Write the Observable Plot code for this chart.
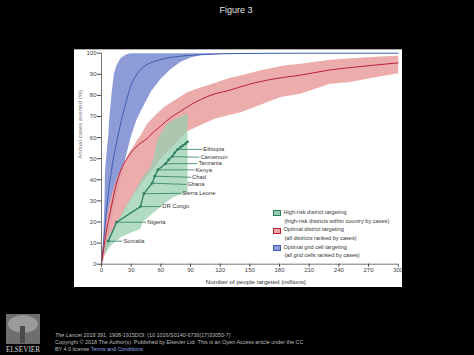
<!DOCTYPE html>
<html><head><meta charset="utf-8">
<script src="https://cdn.jsdelivr.net/npm/d3@7"></script>
<script src="https://cdn.jsdelivr.net/npm/@observablehq/plot@0.6"></script>
<style>
body{margin:0;background:#000;width:474px;height:355px;overflow:hidden;position:relative;font-family:"Liberation Sans",Arial,sans-serif;}
#title{position:absolute;left:0;width:472px;top:5px;text-align:center;color:#e6e6e6;font-size:9px;}
#panel{position:absolute;left:74px;top:50px;width:328px;height:237px;background:#fff;box-shadow:0 -1px 0 #aaa;}
#panel svg{position:absolute;left:0;top:0;background:#fff;}
.lg{position:absolute;font-size:5.6px;color:#333;white-space:nowrap;line-height:7px;}
.sw{position:absolute;width:6px;height:4px;}
#cite{position:absolute;left:55px;top:332px;font-size:5.4px;color:#bdbdbd;line-height:6.8px;white-space:nowrap;}
#cite a{color:#8fa3e0;text-decoration:none;}
#logo{position:absolute;left:4px;top:312px;}
</style></head>
<body>
<div id="title">Figure 3</div>
<div id="panel"></div>
<svg id="logo" width="40" height="43">
  <rect x="2" y="2" width="34" height="30" fill="#6e6e6e"/>
  <ellipse cx="19" cy="12" rx="15" ry="9" fill="#9a9a9a"/>
  <rect x="16" y="14" width="5" height="17" fill="#4a4a4a"/>
  <text x="19" y="40" text-anchor="middle" font-family="Liberation Serif,serif" font-size="7.2" fill="#d8d8d8">ELSEVIER</text>
</svg>
<div id="cite"><i>The Lancet</i> 2018 391, 1908-1915DOI: (10.1016/S0140-6736(17)33050-7)<br>Copyright © 2018 The Author(s). Published by Elsevier Ltd. This is an Open Access article under the CC<br>BY 4.0 license <a>Terms and Conditions</a></div>
<script>
// ---- data ----
const xTicks = [0, 30, 60, 90, 120, 150, 180, 210, 240, 270, 300];
const yTicks = [0, 10, 20, 30, 40, 50, 60, 70, 80, 90, 100];

// Optimal grid cell targeting (blue)
const blueMedX = [0, 2, 4, 6, 8, 10, 12, 15, 20, 25, 30, 35, 40, 50, 60, 70, 80, 100, 120, 150, 200, 300];
const blueMedY = [0, 10, 20, 30, 38, 44, 50, 57, 68, 77, 85, 89.5, 92.5, 95.5, 97, 98, 98.6, 99.3, 99.7, 99.9, 100, 100];
const blueUpX = [0, 1, 1.7, 3, 3.5, 5, 7, 7.5, 10, 12.5, 15, 19, 24, 29, 300];
const blueUpY = [0, 5, 11, 30, 44, 52, 62, 67, 80, 90, 94, 97.5, 99.3, 100, 100];
const blueLoX = [0, 5, 10, 15, 20, 25, 30, 35, 40, 50, 60, 70, 80, 90, 100, 120, 150, 200, 300];
const blueLoY = [0, 10, 20, 32, 42, 52, 61, 68, 73, 82, 88, 92.5, 96, 98, 99, 99.6, 99.9, 100, 100];

// Optimal district targeting (red)
const redMedX = [0, 1.5, 3.3, 6, 9, 12, 15, 20, 25, 30, 35, 40, 46, 50, 60, 66, 70, 80, 90, 100, 115, 130, 140, 160, 185, 200, 230, 250, 275, 300];
const redMedY = [0, 5, 11, 18.5, 25, 32, 38, 45, 49.5, 53, 55.5, 57.5, 59.5, 61.5, 65.5, 68, 69.5, 72.5, 75.5, 78, 80.8, 82.5, 84, 86.5, 88.6, 89.5, 92, 93.1, 94.3, 95.4];
const redUpX = [0, 1, 2.5, 5, 8, 12, 16, 20, 25, 29.3, 35, 40, 46, 55, 63, 75, 86.6, 100, 113.6, 130, 140.5, 160, 184, 201, 231, 260, 292, 300];
const redUpY = [0, 6, 14, 22, 29, 36, 41.5, 45.5, 50, 53.9, 58, 61.5, 66.5, 71, 74.4, 78, 81.5, 83.8, 85.8, 88.4, 89.4, 91.8, 94.2, 95, 96.9, 97.8, 98.7, 98.8];
const redLoX = [0, 3, 6, 10, 15, 20, 25, 30, 40, 50, 60, 70, 80, 86.6, 100, 115, 130, 140.5, 160, 181, 201, 231, 251.6, 275, 300];
const redLoY = [0, 4, 8, 13, 18, 23, 27, 31, 38, 44, 50, 55, 60, 63, 66, 69, 70.8, 72, 75.5, 79.2, 80.8, 85.5, 86.3, 88.5, 90.5];

// High-risk district targeting (green)
const greenUpX = [3, 3.5, 5, 8, 12.4, 18, 26, 32, 37.7, 43, 49.5, 53, 56.3, 60, 66.4, 75, 87];
const greenUpY = [4, 8, 11, 14, 17.5, 22, 28.6, 33, 38, 42, 46, 51, 58.6, 62, 66.5, 69, 71.3];
const greenLoX = [3, 4.5, 5.8, 8, 12, 19.2, 30, 39.5, 41, 51.2, 63, 73, 80, 87];
const greenLoY = [4, 5.5, 6.5, 8, 10, 12.8, 15, 16.8, 19.9, 23.9, 28.6, 31.8, 33, 34];

const countries = ["Somalia", "Nigeria", "DR Congo", "Sierra Leone", "Ghana", "Chad", "Kenya", "Tanzania", "Cameroon", "Ethiopia"];
const countryX = [6.8, 15.2, 39.4, 42.8, 51.2, 53.9, 56.9, 64.7, 71.4, 77];
const countryY = [10.9, 19.9, 27.3, 33.4, 38.4, 41.7, 44.7, 47.6, 51, 54.4];
const labelX = [22.2, 46.2, 61.4, 81.6, 86.6, 91.6, 95, 98, 100, 103];
const labelY = [10.9, 19.9, 27.3, 33.6, 37.8, 41.2, 44.7, 47.7, 50.7, 54.4];
const extraX = [68, 74, 80, 82.5, 85, 87];
const extraY = [49.5, 52.8, 55.5, 56.3, 57.1, 58];

const xTitle = "Number of people targeted (millions)";
const yTitle = "Annual cases averted (%)";
const legendItems = [
  ["High-risk district targeting", "(high-risk districts within country by cases)"],
  ["Optimal district targeting", "(all districts ranked by cases)"],
  ["Optimal grid cell targeting", "(all grid cells ranked by cases)"]
];

// ---- build tables ----
const pts = (xs, ys) => xs.map((x, i) => ({x, y: ys[i]}));
const poly = (ux, uy, lx, ly) => pts(ux, uy).concat(pts(lx, ly).reverse());
const blueBand = poly(blueUpX, blueUpY, blueLoX, blueLoY);
const redBand = poly(redUpX, redUpY, redLoX, redLoY);
const greenBand = poly(greenUpX, greenUpY, greenLoX, greenLoY);
const greenPts = pts(countryX.concat(extraX), countryY.concat(extraY)).sort((a, b) => a.x - b.x);
const labels = countries.map((c, i) => ({c, px: countryX[i], py: countryY[i], lx: labelX[i], ly: labelY[i]}));

const BLUE = "#8d9bd7", BLUE_L = "#3d5cb0";
const RED = "#eaa5a5", RED_L = "#be1e35";
const GREEN = "#98cfb0", GREEN_L = "#2f8062";

const chart = Plot.plot({
  width: 328, height: 237,
  marginLeft: 27, marginRight: 4.3, marginTop: 2.7, marginBottom: 23.3,
  style: {fontFamily: "Liberation Sans, Arial, sans-serif", background: "#fff"},
  x: {domain: [0, 300]},
  y: {domain: [0, 100]},
  marks: [
    Plot.line(blueBand, {x: "x", y: "y", fill: BLUE, stroke: "none", curve: "linear"}),
    Plot.line(redBand, {x: "x", y: "y", fill: RED, fillOpacity: 0.92, stroke: "none"}),
    Plot.line(greenBand, {x: "x", y: "y", fill: GREEN, fillOpacity: 0.75, stroke: "none"}),
    Plot.line(pts(blueMedX, blueMedY), {x: "x", y: "y", stroke: BLUE_L, strokeWidth: 1, curve: "monotone-x"}),
    Plot.line(pts(redMedX, redMedY), {x: "x", y: "y", stroke: RED_L, strokeWidth: 1, curve: "monotone-x"}),
    Plot.link(labels, {x1: "px", y1: "py", x2: d => d.lx - 1, y2: "ly", stroke: GREEN_L, strokeWidth: 0.8}),
    Plot.line(greenPts, {x: "x", y: "y", stroke: GREEN_L, strokeWidth: 1.3}),
    Plot.dot(greenPts, {x: "x", y: "y", r: 1.4, fill: GREEN_L, stroke: "none"}),
    Plot.text(labels, {x: "lx", y: "ly", text: "c", textAnchor: "start", fontSize: 5.8, fill: "#333"}),
    Plot.ruleX([0], {stroke: "#666", strokeWidth: 0.9}),
    Plot.ruleY([0], {stroke: "#666", strokeWidth: 0.9}),
    Plot.axisX({ticks: xTicks, tickSize: 3, tickPadding: 1, fontSize: 6, color: "#444", label: null}),
    Plot.axisY({ticks: yTicks, tickSize: 4, tickPadding: 1, fontSize: 6, color: "#444", label: null}),
    Plot.text([xTitle], {frameAnchor: "bottom", dx: 6, dy: 19.6, fontSize: 6.2, fill: "#333"}),
    Plot.text([yTitle], {frameAnchor: "left", dx: -21, rotate: -90, fontSize: 6, fill: "#777"})
  ]
});
const panel = document.getElementById("panel");
panel.appendChild(chart);

// legend (HTML, inside the panel)
const swFill = [GREEN, RED, BLUE], swStroke = [GREEN_L, RED_L, BLUE_L];
legendItems.forEach((lines, i) => {
  const top = 158.8 + i * 17.4;
  const sw = document.createElement("div");
  sw.className = "sw";
  sw.style.left = "199px"; sw.style.top = (top + 1.6) + "px";
  sw.style.background = swFill[i]; sw.style.border = "0.8px solid " + swStroke[i];
  panel.appendChild(sw);
  lines.forEach((t, j) => {
    const d = document.createElement("div");
    d.className = "lg";
    d.textContent = t;
    d.style.left = (j ? 210.5 : 209.5) + "px";
    d.style.top = (top + j * 8.7) + "px";
    panel.appendChild(d);
  });
});
</script>
</body></html>
